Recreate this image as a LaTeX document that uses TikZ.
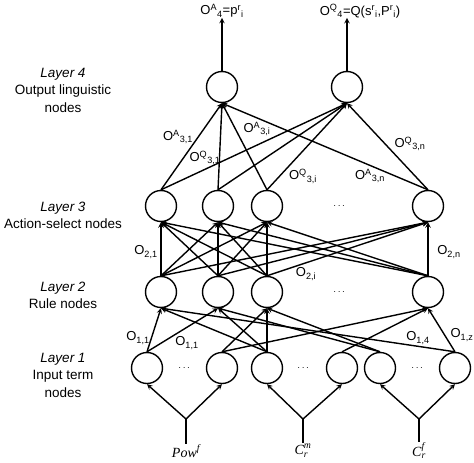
\documentclass[tikz,border=0pt]{standalone}
\usepackage{amsmath}
\usepackage{fontspec}
\setmainfont{Liberation Sans}
\newfontfamily\tms{Liberation Serif}
\newcommand{\vi}[1]{\text{\tms\itshape #1}}
\begin{document}
\begin{tikzpicture}[x=1pt,y=-1pt,
    neuron/.style={circle,draw,line width=1.4pt,minimum size=31pt,inner sep=0pt},
    link/.style={line width=1.4pt,->,>=stealth},
    wt/.style={inner sep=0pt,font=\fontsize{13}{15}\selectfont},
    layer/.style={align=center,inner sep=0pt,font=\fontsize{13.5}{17.5}\selectfont}]
  \useasboundingbox (0,0) rectangle (474,463);
  % layer 4
  \node[neuron] (q1) at (222,87) {};
  \node[neuron] (q2) at (347,87) {};
  \node[wt] (oa) at (222,11) {O\textsuperscript{A}\textsubscript{4}=p\textsuperscript{r}\textsubscript{i}};
  \node[wt] (oq) at (360,11) {O\textsuperscript{Q}\textsubscript{4}=Q(s\textsuperscript{r}\textsubscript{i},P\textsuperscript{r}\textsubscript{i})};
  \draw[link] (q1.north) -- (oa.south);
  \draw[link] (q2.north) -- (q2.north |- oq.south);
  % layer 3
  \node[neuron] (s1) at (161,206) {};
  \node[neuron] (s2) at (218,206) {};
  \node[neuron] (s3) at (267,206) {};
  \node[neuron] (sn) at (428,206) {};
  \node (d3) at (340,206) {$\cdots$};
  % layer 2
  \node[neuron] (r1) at (161,292) {};
  \node[neuron] (r2) at (218,292) {};
  \node[neuron] (r3) at (267,292) {};
  \node[neuron] (rn) at (428,292) {};
  \node (d2) at (340,292) {$\cdots$};
  % layer 1
  \node[neuron] (t1) at (147,368) {};
  \node[neuron] (t2) at (222,368) {};
  \node[neuron] (t3) at (267,368) {};
  \node[neuron] (t4) at (342,368) {};
  \node[neuron] (t5) at (380,368) {};
  \node[neuron] (t6) at (455,368) {};
  \node (d1a) at (185,368) {$\cdots$};
  \node (d1b) at (304,368) {$\cdots$};
  \node (d1c) at (418,368) {$\cdots$};
  % inputs
  \node[inner sep=1pt,font=\fontsize{14}{16}\selectfont] (pow) at (186,451) {$\vi{Pow}^{\vi{f}}$};
  \node[inner sep=1pt,font=\fontsize{14}{16}\selectfont] (crm) at (303,451) {$\vi{C}_{\vi{r}}^{\vi{m}}$};
  \node[inner sep=1pt,font=\fontsize{14}{16}\selectfont] (crf) at (419,451) {$\vi{C}_{\vi{r}}^{\vi{f}}$};
  \coordinate (jp) at (186,419);
  \coordinate (jm) at (303,419);
  \coordinate (jf) at (419,419);
  \draw[line width=1.4pt] (pow.north) -- (jp);
  \draw[line width=1.4pt] (crm.north) -- (jm);
  \draw[line width=1.4pt] (crf.north) -- (jf);
  \draw[link] (jp) -- (t1.south);
  \draw[link] (jp) -- (t2.south);
  \draw[link] (jm) -- (t3.south);
  \draw[link] (jm) -- (t4.south);
  \draw[link] (jf) -- (t5.south);
  \draw[link] (jf) -- (t6.south);
  % layer 1 -> layer 2
  \draw[link] (t1.north) -- (r1.south);
  \draw[link] (t1.north) -- (r2.south);
  \draw[link] (t2.north) -- (r3.south);
  \draw[link] (t2.north) -- (rn.south);
  \draw[link] (t3.north) -- (r1.south);
  \draw[link] (t3.north) -- (r2.south);
  \draw[link] (t3.north) -- (r3.south);
  \draw[link] (t4.north) -- (rn.south);
  \draw[link] (t5.north) -- (r2.south);
  \draw[link] (t5.north) -- (r3.south);
  \draw[link] (t6.north) -- (r1.south);
  \draw[link] (t6.north) -- (rn.south);
  % layer 2 -> layer 3
  \draw[link] (r1.north) -- (s1.south);
  \draw[link] (r1.north) -- (s2.south);
  \draw[link] (r1.north) -- (s3.south);
  \draw[link] (r1.north) -- (sn.south);
  \draw[link] (r2.north) -- (s1.south);
  \draw[link] (r2.north) -- (s2.south);
  \draw[link] (r2.north) -- (s3.south);
  \draw[link] (r2.north) -- (sn.south);
  \draw[link] (r3.north) -- (s1.south);
  \draw[link] (r3.north) -- (s2.south);
  \draw[link] (r3.north) -- (s3.south);
  \draw[link] (r3.north) -- (sn.south);
  \draw[link] (rn.north) -- (s1.south);
  \draw[link] (rn.north) -- (s2.south);
  \draw[link] (rn.north) -- (s3.south);
  \draw[link] (rn.north) -- (sn.south);
  % layer 3 -> layer 4
  \draw[link] (s1.north) -- (q1.south);
  \draw[link] (s1.north) -- (q2.south);
  \draw[link] (s2.north) -- (q1.south);
  \draw[link] (s2.north) -- (q2.south);
  \draw[link] (s3.north) -- (q1.south);
  \draw[link] (s3.north) -- (q2.south);
  \draw[link] (sn.north) -- (q1.south);
  \draw[link] (sn.north) -- (q2.south);
  % weights
  \node[wt] (o11a) at (138,338) {O\textsubscript{1,1}};
  \node[wt] (o11b) at (187,343) {O\textsubscript{1,1}};
  \node[wt] (o14) at (418,338) {O\textsubscript{1,4}};
  \node[wt] (o1z) at (462,335) {O\textsubscript{1,z}};
  \node[wt] (o21) at (146,252) {O\textsubscript{2,1}};
  \node[wt] (o2i) at (306,274) {O\textsubscript{2,i}};
  \node[wt] (o2n) at (449,252) {O\textsubscript{2,n}};
  \node[wt] (oa31) at (178,137) {O\textsuperscript{A}\textsubscript{3,1}};
  \node[wt] (oq31) at (205,158) {O\textsuperscript{Q}\textsubscript{3,1}};
  \node[wt] (oa3i) at (257,129) {O\textsuperscript{A}\textsubscript{3,i}};
  \node[wt] (oq3i) at (303,176) {O\textsuperscript{Q}\textsubscript{3,i}};
  \node[wt] (oa3n) at (370,176) {O\textsuperscript{A}\textsubscript{3,n}};
  \node[wt] (oq3n) at (410,144) {O\textsuperscript{Q}\textsubscript{3,n}};
  % layer names
  \node[layer] (l4) at (63,90) {\textit{Layer 4}\\Output linguistic\\nodes};
  \node[layer] (l3) at (63,215.5) {\textit{Layer 3}\\Action-select nodes};
  \node[layer] (l2) at (63,295.5) {\textit{Layer 2}\\Rule nodes};
  \node[layer] (l1) at (63,375) {\textit{Layer 1}\\Input term\\nodes};
\end{tikzpicture}
\end{document}
